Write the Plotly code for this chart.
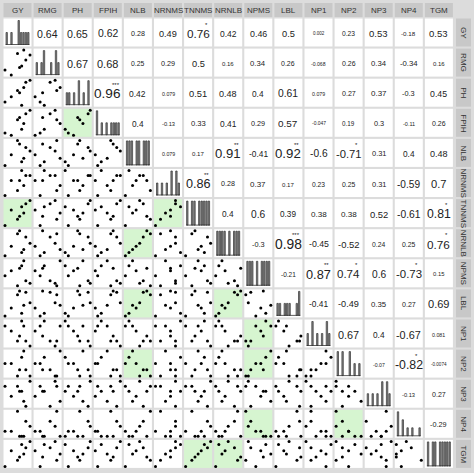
import numpy as np
import plotly.graph_objects as go

variables = ["GY","RMG","PH","FPIH","NLB","NRNMS","TNNMS","NRNLB","NPMS","LBL","NP1","NP2","NP3","NP4","TGM"]

# observations (estimated)
GY    = [3.1, 4.0, 4.6, 5.2, 4.9, 2.2, 5.8, 4.3]
RMG   = [2.0, 4.6, 3.1, 3.8, 5.0, 2.6, 4.4, 2.9]
PH    = [66, 72, 58, 80, 75, 61, 82, 70]
FPIH  = [45, 58, 50, 63, 55, 47, 66, 60]
NLB   = [12, 16, 10, 14, 11, 9, 13, 15]
NRNMS = [5, 3, 7, 6, 4, 2, 6, 5]
TNNMS = [11, 8, 12, 13, 10, 6, 14, 9]
NRNLB = [7, 11, 5, 10, 6, 4, 8, 12]
NPMS  = [26, 20, 28, 22, 30, 24, 21, 27]
LBL   = [34, 44, 30, 46, 36, 28, 38, 47]
NP1   = [4, 2, 6, 2, 5, 5, 1, 3]
NP2   = [5, 3, 6, 4, 7, 5, 3, 4]
NP3   = [6, 8, 7, 4, 5, 8, 9, 7]
NP4   = [1, 3, 0.5, 2, 0.5, 1, 1.5, 0.5]
TGM   = [25, 22, 27, 26, 24, 20, 28, 23]
data = [GY,RMG,PH,FPIH,NLB,NRNMS,TNNMS,NRNLB,NPMS,LBL,NP1,NP2,NP3,NP4,TGM]

# upper-triangle correlation labels (row i, col j>i), as printed
corr_rows = [
 ["0.64","0.65","0.62","0.28","0.49","0.76*","0.42","0.46","0.5","0.002","0.23","0.53","-0.18","0.53"],
 ["0.67","0.68","0.25","0.29","0.5","0.16","0.34","0.26","-0.068","0.26","0.34","-0.34","0.16"],
 ["0.96***","0.42","0.079","0.51","0.48","0.4","0.61","0.079","0.27","0.37","-0.3","0.45"],
 ["0.4","-0.13","0.33","0.41","0.29","0.57","-0.047","0.19","0.3","-0.11","0.26"],
 ["0.079","0.17","0.91**","-0.41","0.92**","-0.6","-0.71*","0.31","0.4","0.48"],
 ["0.86**","0.28","0.37","0.17","0.23","0.25","0.31","-0.59","0.7"],
 ["0.4","0.6","0.39","0.38","0.38","0.52","-0.61","0.81*"],
 ["-0.3","0.98***","-0.45","-0.52","0.24","0.25","0.76*"],
 ["-0.21","0.87**","0.74*","0.6","-0.73*","0.15"],
 ["-0.41","-0.49","0.35","0.27","0.69"],
 ["0.67","0.4","-0.67","0.081"],
 ["-0.07","-0.82*","-0.0074"],
 ["-0.13","0.27"],
 ["-0.29"],
]

n = len(variables)
X0, Y0, STEP, CW = 3.5, 18.5, 30.1, 28.0
fig = go.Figure()
shapes, annos = [], []

def cell(i, j):
    return X0 + j*STEP, Y0 + i*STEP

sig = {}
for i, row in enumerate(corr_rows):
    for k, s in enumerate(row):
        sig[(i, i + 1 + k)] = "*" in s

for i in range(n):
    for j in range(n):
        x, y = cell(i, j)
        green = j < i and sig.get((j, i), False)
        shapes.append(dict(type="rect", x0=x, x1=x+CW, y0=y, y1=y+CW,
                           fillcolor="#d6f5d0" if green else "white", line=dict(width=0), layer="below"))
    x, _ = cell(0, i)
    shapes.append(dict(type="rect", x0=x, x1=x+CW, y0=3, y1=17, fillcolor="#c8c8c8", line=dict(width=0), layer="below"))
    annos.append(dict(x=x+CW/2, y=10, text=variables[i], showarrow=False, font=dict(size=8, color="#333")))
    _, y = cell(i, 0)
    shapes.append(dict(type="rect", x0=456, x1=471, y0=y, y1=y+CW, fillcolor="#c8c8c8", line=dict(width=0), layer="below"))
    annos.append(dict(x=463.5, y=y+CW/2, text=variables[i], showarrow=False, textangle=90, font=dict(size=8, color="#333")))

px, py = [], []
for i in range(n):
    yi = np.array(data[i], float)
    for j in range(i):
        xj = np.array(data[j], float)
        x, y = cell(i, j)
        nx = (xj - xj.min())/(xj.max()-xj.min())
        ny = (yi - yi.min())/(yi.max()-yi.min())
        px += list(x + 1.5 + nx*(CW-3)); py += list(y + CW - 1.5 - ny*(CW-3))
fig.add_trace(go.Scatter(x=px, y=py, mode="markers", marker=dict(size=3, color="black"), hoverinfo="skip"))

NB = 10
for i in range(n):
    x, y = cell(i, i)
    v = np.array(data[i], float)
    counts, edges = np.histogram(v, bins=NB)
    bw = (CW-4)/NB
    for b, c in enumerate(counts):
        if c == 0: continue
        h = (CW-4)*c/counts.max()
        shapes.append(dict(type="rect", x0=x+2+b*bw+0.5, x1=x+2+(b+1)*bw-0.5, y0=y+CW-2-h, y1=y+CW-2,
                           fillcolor="#888", line=dict(color="#333", width=0.7)))
    shapes.append(dict(type="line", x0=x+2, x1=x+CW-2, y0=y+CW-2, y1=y+CW-2, line=dict(color="#333", width=0.8)))

for i, row in enumerate(corr_rows):
    for k, s in enumerate(row):
        j = i + 1 + k
        x, y = cell(i, j)
        val = s.replace("*", "")
        stars = s.count("*")
        r = abs(float(val))
        fs = 4.5 + 9.5*r
        annos.append(dict(x=x+CW/2, y=y+CW/2+1, text=val, showarrow=False, font=dict(size=fs, color="#222", family="Arial")))
        if stars:
            annos.append(dict(x=x+CW-6, y=y+6, text="*"*stars, showarrow=False, font=dict(size=6, color="#222")))

fig.update_layout(width=474, height=473, margin=dict(l=0, r=0, t=0, b=0),
                  paper_bgcolor="#dcdcdc", plot_bgcolor="#dcdcdc", showlegend=False,
                  shapes=shapes, annotations=annos, font=dict(family="Arial"),
                  xaxis=dict(range=[0, 474], visible=False, fixedrange=True),
                  yaxis=dict(range=[473, 0], visible=False, fixedrange=True))
fig.write_html("out.html", config={"displayModeBar": False},
               post_script="document.body.style.margin='0';document.body.style.overflow='hidden';")
